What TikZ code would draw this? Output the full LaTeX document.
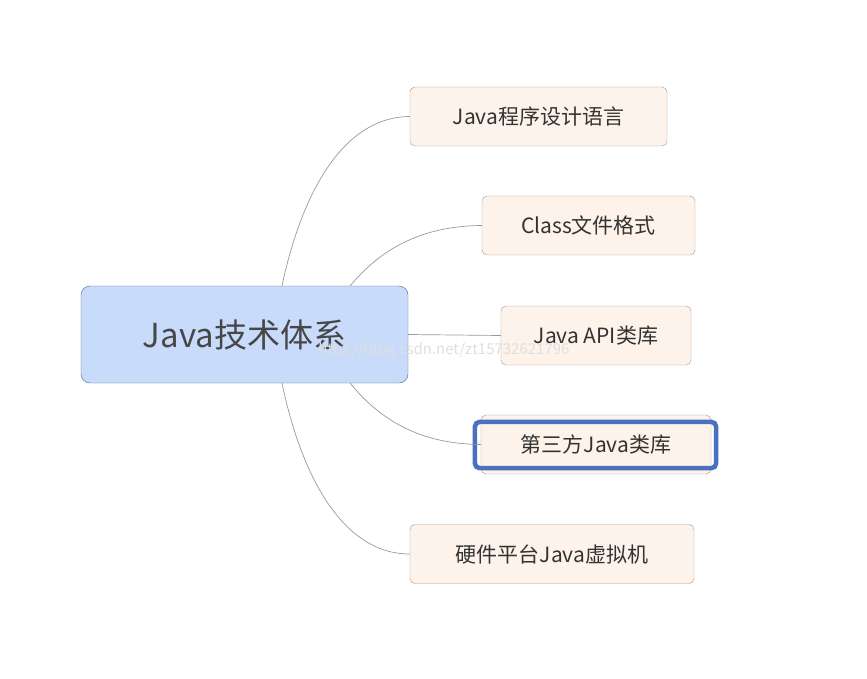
\documentclass[tikz,border=0pt]{standalone}
\usepackage{fontspec}
\setmainfont{Noto Sans CJK SC}
\usetikzlibrary{positioning}
\definecolor{rootfill}{HTML}{C9DBFB}
\definecolor{rootline}{HTML}{4A6590}
\definecolor{leaffill}{HTML}{FDF3EA}
\definecolor{leafline}{HTML}{A39A92}
\definecolor{selblue}{HTML}{4A70C0}
\definecolor{txt}{HTML}{333333}

\begin{document}
\begin{tikzpicture}[x=1pt,y=-1pt,
  root/.style={draw=rootline, fill=rootfill, rounded corners=9pt, minimum width=327pt, minimum height=97pt, text=txt!90, font=\fontsize{33}{36}\selectfont},
  leaf/.style={draw=leafline, fill=leaffill, rounded corners=5pt, minimum height=59pt, text=txt, font=\fontsize{21}{24}\selectfont},
  branch/.style={draw=gray!80, line width=0.7pt}]
\useasboundingbox (0,0) rectangle (867,679);

\node[root] (tech) at (244.5,334.5) {Java技术体系};

\node[leaf, minimum width=257pt] (lang) at (538.5,116.5) {Java程序设计语言};
\node[leaf, minimum width=213pt] (cls) at (588.5,225.5) {Class文件格式};
\node[leaf, minimum width=190pt] (api) at (596,335.5) {Java API类库};
\node[leaf, minimum width=230pt] (third) at (596,444.5) {第三方Java类库};
\node[leaf, minimum width=284pt] (vm) at (552,554) {硬件平台Java虚拟机};

% selection frame
\draw[selblue, line width=4.5pt, rounded corners=5pt] ([shift={(-6pt,-7pt)}]third.north west) rectangle ([shift={(5pt,6pt)}]third.south east);

\draw[branch] (282,286) .. controls (300,200) and (340,117) .. (lang.west);
\draw[branch] (350,286) .. controls (380,250) and (420,226) .. (cls.west);
\draw[branch] (tech.east) -- (api.west);
\draw[branch] (350,383) .. controls (380,420) and (420,444) .. (third.west);
\draw[branch] (282,383) .. controls (300,470) and (340,554) .. (vm.west);

\node[text=gray!25, font=\fontsize{15}{15}\selectfont] (mark) at (444,350) {http://blog.csdn.net/zt15732621796};
\end{tikzpicture}
\end{document}
